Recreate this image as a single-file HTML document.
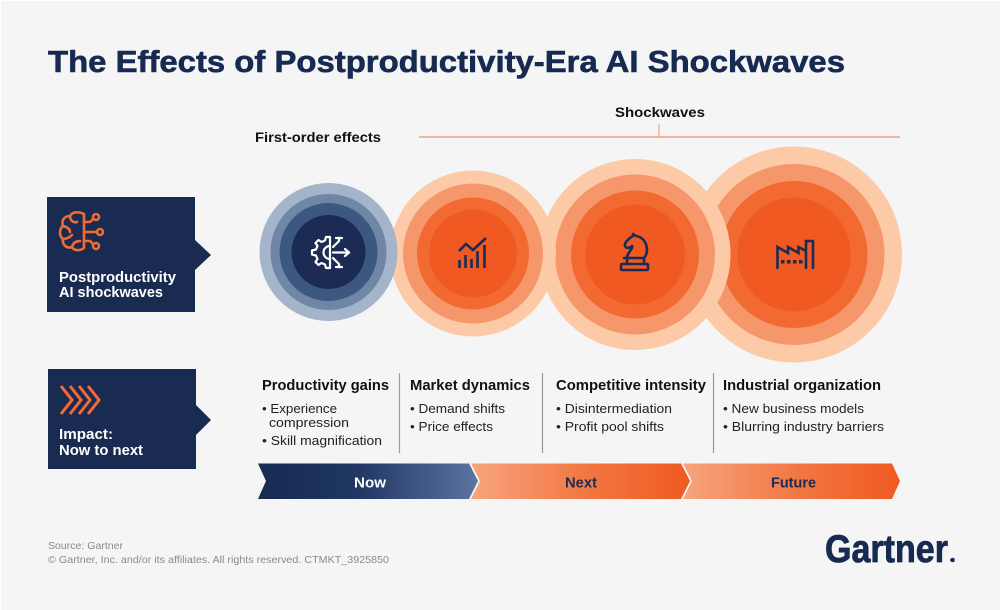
<!DOCTYPE html>
<html>
<head>
<meta charset="utf-8">
<style>
  html,body{margin:0;padding:0;background:#f5f5f5;}
  svg{display:block;}
  text{font-family:"Liberation Sans",Arial,sans-serif;}
</style>
</head>
<body>
<svg width="1000" height="610" viewBox="0 0 1000 610" xmlns="http://www.w3.org/2000/svg">
  <defs>
    <linearGradient id="gNow" x1="258" y1="0" x2="479" y2="0" gradientUnits="userSpaceOnUse">
      <stop offset="0" stop-color="#172a52"/>
      <stop offset="0.45" stop-color="#1f3762"/>
      <stop offset="1" stop-color="#5c76a1"/>
    </linearGradient>
    <linearGradient id="gNext" x1="471" y1="0" x2="690" y2="0" gradientUnits="userSpaceOnUse">
      <stop offset="0" stop-color="#f7a47e"/>
      <stop offset="0.55" stop-color="#f27540"/>
      <stop offset="1" stop-color="#f05a22"/>
    </linearGradient>
    <linearGradient id="gFut" x1="683" y1="0" x2="900" y2="0" gradientUnits="userSpaceOnUse">
      <stop offset="0" stop-color="#f7a47e"/>
      <stop offset="0.55" stop-color="#f27540"/>
      <stop offset="1" stop-color="#f05a22"/>
    </linearGradient>
  </defs>

  <rect x="0" y="0" width="1000" height="610" fill="#f5f5f5"/>
  <rect x="0" y="0" width="1000" height="1" fill="#ffffff"/>
  <rect x="0" y="0" width="1" height="610" fill="#ffffff"/>

  <!-- Title -->
  <text x="48" y="72" font-size="31" font-weight="bold" fill="#172a51" stroke="#172a51" stroke-width="0.6" textLength="797" lengthAdjust="spacingAndGlyphs">The Effects of Postproductivity-Era AI Shockwaves</text>

  <!-- Shockwaves bracket -->
  <text x="615" y="117" font-size="14" font-weight="bold" fill="#111" textLength="90" lengthAdjust="spacingAndGlyphs">Shockwaves</text>
  <line x1="659" y1="124" x2="659" y2="137" stroke="#f0a27e" stroke-width="1.2"/>
  <line x1="419" y1="137" x2="900" y2="137" stroke="#f0a27e" stroke-width="1.5"/>
  <text x="255" y="142" font-size="14" font-weight="bold" fill="#111" textLength="126" lengthAdjust="spacingAndGlyphs">First-order effects</text>

  <!-- Left box 1 -->
  <rect x="47" y="197" width="148" height="115" fill="#1a2b52"/>
  <polygon points="195,240 211,255 195,270" fill="#1a2b52"/>
  <!-- brain icon -->
  <g fill="none" stroke="#f26b35" stroke-width="2.6" stroke-linecap="round" stroke-linejoin="round">
    <path d="M84,214 C78,211 72,212 70,216 C64,216 61,221 63,226 C59,229 59,236 63,239 C62,245 67,249 72,247 C74,251 80,251 84,248 Z"/>
    <path d="M70,216 C70,221 74,223 77,222"/>
    <path d="M63,226 C67,227 70,229 70,232"/>
    <path d="M63,239 C67,239 70,237 72,235"/>
    <path d="M72,247 C73,243 76,241 80,241"/>
    <path d="M84,222 L90,222 L93,219"/>
    <path d="M84,232 L97,232"/>
    <path d="M84,241 L90,241 L93,244"/>
    <circle cx="96" cy="217" r="3"/>
    <circle cx="100" cy="232" r="3"/>
    <circle cx="96" cy="246" r="3"/>
  </g>
  <text x="59" y="282" font-size="15" font-weight="bold" fill="#ffffff" textLength="117" lengthAdjust="spacingAndGlyphs">Postproductivity</text>
  <text x="59" y="297" font-size="15" font-weight="bold" fill="#ffffff" textLength="104" lengthAdjust="spacingAndGlyphs">AI shockwaves</text>

  <!-- Orange circles (right to left) -->
  <g>
    <circle cx="794" cy="254.5" r="108" fill="#fccaa6"/>
    <circle cx="794" cy="254.5" r="90.5" fill="#f6976b"/>
    <circle cx="794" cy="254.5" r="73.5" fill="#f26a31"/>
    <circle cx="794" cy="254.5" r="57" fill="#f05a22"/>
  </g>
  <g>
    <circle cx="635" cy="254.5" r="95.5" fill="#fccaa6"/>
    <circle cx="635" cy="254.5" r="80" fill="#f6976b"/>
    <circle cx="635" cy="254.5" r="64" fill="#f26a31"/>
    <circle cx="635" cy="254.5" r="50" fill="#f05a22"/>
  </g>
  <g>
    <circle cx="473" cy="253.5" r="83" fill="#fccaa6"/>
    <circle cx="473" cy="253.5" r="70" fill="#f6976b"/>
    <circle cx="473" cy="253.5" r="56" fill="#f26a31"/>
    <circle cx="473" cy="253.5" r="44" fill="#f05a22"/>
  </g>
  <!-- Blue circle -->
  <g>
    <circle cx="328.5" cy="252" r="69" fill="#a4b5cb"/>
    <circle cx="328.5" cy="252" r="58" fill="#7086a6"/>
    <circle cx="328.5" cy="252" r="49" fill="#3d5880"/>
    <circle cx="328.5" cy="252" r="37" fill="#1b2b54"/>
  </g>

  <!-- gear icon (white) -->
  <g fill="none" stroke="#ffffff" stroke-width="2.2" stroke-linejoin="round" stroke-linecap="round">
    <path d="M330,237 L326,237 L325,240.5 L321.5,242 L318.5,240 L315.5,243 L317.5,246 L316,249.5 L312,250.5 L312,254.5 L316,255.5 L317.5,259 L315.5,262 L318.5,265 L321.5,263 L325,264.5 L326,268 L330,268 Z"/>
    <path d="M330,246 A6.5,6.5 0 0 0 330,259"/>
    <path d="M333,252.5 L349,252.5"/>
    <path d="M345,249 L349,252.5 L345,256"/>
    <path d="M333,247 L339,241 L339,238"/>
    <path d="M336,238 L339,238 L342,238"/>
    <path d="M333,258 L339,264 L339,267"/>
    <path d="M336,267 L342,267"/>
  </g>

  <!-- chart icon -->
  <g fill="none" stroke="#1b2b54" stroke-width="2.6" stroke-linecap="butt" stroke-linejoin="miter">
    <path d="M459,251 L466,244 L473,250 L486,238"/>
    <line x1="459.5" y1="268" x2="459.5" y2="260"/>
    <line x1="465.5" y1="268" x2="465.5" y2="255"/>
    <line x1="471.5" y1="268" x2="471.5" y2="259"/>
    <line x1="477.5" y1="268" x2="477.5" y2="251"/>
    <line x1="484.5" y1="268" x2="484.5" y2="245"/>
  </g>

  <!-- knight icon -->
  <g fill="none" stroke="#1b2b54" stroke-width="2.6" stroke-linejoin="round" stroke-linecap="round">
    <path d="M624,258 L644,258"/>
    <rect x="621" y="264" width="27" height="6" rx="1"/>
    <path d="M627,264 L627,258 C627,252 633,250 632,246 C630,248 626,249 625,246 C624,243 629,238 633,236 L633,234 L636,236 C643,237 647,243 647,250 C647,254 645,257 644,258 L644,264"/>
  </g>

  <!-- factory icon -->
  <g fill="none" stroke="#1b2b54" stroke-width="2.6" stroke-linejoin="miter">
    <path d="M777.5,269 L777.5,247 L788,253 L788,247 L798.5,253 L798.5,247 L806,251"/>
    <path d="M806,269 L806,241 L813,241 L813,269"/>
  </g>
  <g fill="#1b2b54">
    <rect x="781" y="260" width="3.5" height="3.5"/>
    <rect x="787" y="260" width="3.5" height="3.5"/>
    <rect x="793" y="260" width="3.5" height="3.5"/>
    <rect x="799" y="260" width="3.5" height="3.5"/>
  </g>

  <!-- Left box 2 -->
  <rect x="48" y="369" width="148" height="100" fill="#1a2b52"/>
  <polygon points="196,405 211,420 196,435" fill="#1a2b52"/>
  <g fill="none" stroke="#f26b35" stroke-width="3" stroke-linecap="butt" stroke-linejoin="miter">
    <polyline points="61,386 72,400 61,414"/>
    <polyline points="70,386 81,400 70,414"/>
    <polyline points="79,386 90,400 79,414"/>
    <polyline points="88,386 99,400 88,414"/>
  </g>
  <text x="59" y="439" font-size="15" font-weight="bold" fill="#ffffff" textLength="54" lengthAdjust="spacingAndGlyphs">Impact:</text>
  <text x="59" y="455" font-size="15" font-weight="bold" fill="#ffffff" textLength="84" lengthAdjust="spacingAndGlyphs">Now to next</text>

  <!-- Column headings -->
  <g font-size="15" font-weight="bold" fill="#111">
    <text x="262" y="390" textLength="127" lengthAdjust="spacingAndGlyphs">Productivity gains</text>
    <text x="410" y="390" textLength="120" lengthAdjust="spacingAndGlyphs">Market dynamics</text>
    <text x="556" y="390" textLength="150" lengthAdjust="spacingAndGlyphs">Competitive intensity</text>
    <text x="723" y="390" textLength="158" lengthAdjust="spacingAndGlyphs">Industrial organization</text>
  </g>
  <!-- dividers -->
  <g stroke="#9a9a9a" stroke-width="1.2">
    <line x1="399.5" y1="373" x2="399.5" y2="453"/>
    <line x1="542.5" y1="373" x2="542.5" y2="453"/>
    <line x1="713.5" y1="373" x2="713.5" y2="453"/>
  </g>
  <!-- bullets -->
  <g font-size="13" fill="#222">
    <text x="262" y="413" textLength="75" lengthAdjust="spacingAndGlyphs">• Experience</text>
    <text x="269" y="427" textLength="80" lengthAdjust="spacingAndGlyphs">compression</text>
    <text x="262" y="445" textLength="120" lengthAdjust="spacingAndGlyphs">• Skill magnification</text>
    <text x="410" y="413" textLength="95" lengthAdjust="spacingAndGlyphs">• Demand shifts</text>
    <text x="410" y="431" textLength="83" lengthAdjust="spacingAndGlyphs">• Price effects</text>
    <text x="556" y="413" textLength="116" lengthAdjust="spacingAndGlyphs">• Disintermediation</text>
    <text x="556" y="431" textLength="108" lengthAdjust="spacingAndGlyphs">• Profit pool shifts</text>
    <text x="723" y="413" textLength="141" lengthAdjust="spacingAndGlyphs">• New business models</text>
    <text x="723" y="431" textLength="161" lengthAdjust="spacingAndGlyphs">• Blurring industry barriers</text>
  </g>

  <!-- Timeline arrows -->
  <polygon points="258,463.5 469,463.5 478,481 469,499 258,499 266,481" fill="url(#gNow)"/>
  <polygon points="471,463.5 681,463.5 690,481 681,499 471,499 480,481" fill="url(#gNext)"/>
  <polygon points="683,463.5 892,463.5 900,481 892,499 683,499 692,481" fill="url(#gFut)"/>
  <g font-size="14.5" font-weight="bold">
    <text x="354" y="487.5" fill="#ffffff" textLength="32" lengthAdjust="spacingAndGlyphs">Now</text>
    <text x="565" y="487.5" fill="#1b2b54" textLength="32" lengthAdjust="spacingAndGlyphs">Next</text>
    <text x="771" y="487.5" fill="#1b2b54" textLength="45" lengthAdjust="spacingAndGlyphs">Future</text>
  </g>

  <!-- Footer -->
  <g font-size="10.5" fill="#8a8a8a">
    <text x="48" y="549" textLength="75" lengthAdjust="spacingAndGlyphs">Source: Gartner</text>
    <text x="48" y="563" textLength="341" lengthAdjust="spacingAndGlyphs">© Gartner, Inc. and/or its affiliates. All rights reserved. CTMKT_3925850</text>
  </g>
  <text x="825" y="562" font-size="39" font-weight="bold" fill="#172a51" stroke="#172a51" stroke-width="0.8" textLength="123" lengthAdjust="spacingAndGlyphs">Gartner</text>
  <circle cx="952.5" cy="560" r="2.3" fill="#172a51"/>
</svg>
</body>
</html>
